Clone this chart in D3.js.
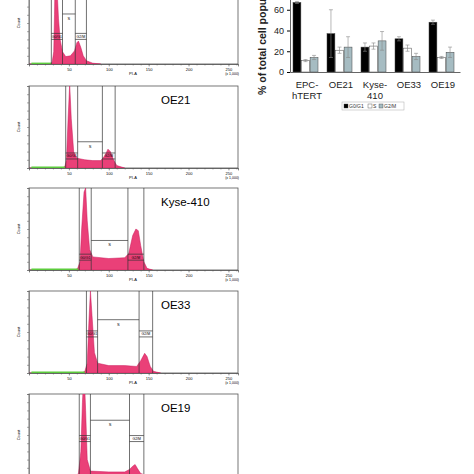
<!DOCTYPE html>
<html><head><meta charset="utf-8">
<script src="https://cdn.jsdelivr.net/npm/d3@7"></script>
<style>body{margin:0;background:#fff}svg{display:block;font-family:Arial,"Liberation Sans",sans-serif}</style>
</head><body>
<div class="chart"></div>
<script>
// histogram panels: [PI-A value, count as fraction of panel height]
const panelNames = ["", "OE21", "Kyse-410", "OE33", "OE19"];
const panelAxisY = [64, 168, 270, 373, 476];
const histograms = [
  [[0,0],[26,0],[29,0.02],[31,0.15],[32,0.6],[33,1.3],[35,0.95],[37,0.55],[39,0.3],[42,0.15],[46,0.09],[52,0.1],[57,0.16],[60,0.26],[62,0.28],[65,0.2],[68,0.1],[72,0.04],[80,0.01],[90,0]],
  [[0,0],[42,0],[45,0.02],[47,0.1],[49,0.6],[51,1.02],[53,0.6],[56,0.2],[60,0.12],[70,0.1],[80,0.09],[90,0.09],[95,0.15],[99,0.23],[102,0.2],[106,0.1],[110,0.03],[120,0]],
  [[0,0],[58,0],[61,0.02],[64,0.1],[66,0.5],[69,0.95],[71,1.0],[73,0.6],[76,0.25],[80,0.16],[100,0.14],[120,0.15],[125,0.2],[130,0.42],[134,0.5],[137,0.48],[140,0.3],[144,0.1],[148,0.02],[155,0]],
  [[0,0],[66,0],[70,0.02],[73,0.12],[75,0.6],[77,1.0],[79,0.7],[82,0.25],[86,0.12],[100,0.09],[120,0.09],[135,0.08],[140,0.15],[145,0.24],[148,0.2],[152,0.08],[156,0.02],[165,0]],
  [[0,0],[58,0],[62,0.03],[65,0.3],[67,0.9],[69,1.3],[71,0.8],[73,0.2],[77,0.06],[100,0.05],[120,0.05],[126,0.08],[130,0.12],[133,0.14],[136,0.09],[140,0.03],[150,0]]
];
// gate boundaries: G0/G1 start, S start, G2/M start, G2/M end
const gates = [[28,42,58,72],[46,61,92,108],[63,78,124,144],[72,86,138,155],[63,77,126,144]];
const sGateLevel = [0.61, 0.32, 0.36, 0.65, 0.68];
const gGateLevel = [0.30, 0.11, 0.12, 0.44, 0.42];
const debrisEnd = [28, 45, 62, 70, 62];
const xTicks = [50, 100, 150, 200, 250];

// bar chart
const categories = [["EPC-","hTERT"], ["OE21"], ["Kyse-","410"], ["OE33"], ["OE19"]];
const phases = ["G0/G1", "S", "G2/M"];
const g0g1 = [67, 37, 24, 32, 48];
const sPhase = [11, 21, 25, 23, 14];
const g2m = [14, 24, 30, 15, 19];
const g0g1Err = [1, 23, 4, 2, 2];
const sErr = [1, 3, 3, 3, 1];
const g2mErr = [2, 10, 9, 3, 5];
const yTicks = [0, 20, 40, 60];

const svg = d3.select(".chart").append("svg").attr("width", 474).attr("height", 474);
const defs = svg.append("defs");
const x = d3.scaleLinear().domain([0, 262]).range([29, 238]);
const pink = "#ea4078";

histograms.forEach((h, i) => {
  const base = panelAxisY[i], top = base - 82;
  const y = d3.scaleLinear().domain([0, 1]).range([base, top]);
  defs.append("clipPath").attr("id", "c" + i).append("rect")
    .attr("x", 29).attr("y", top).attr("width", 209).attr("height", 82);
  const g = svg.append("g");
  g.append("rect").attr("x", 29).attr("y", top).attr("width", 209).attr("height", 82)
    .attr("fill", "none").attr("stroke", "#555").attr("stroke-width", 0.8);
  const area = d3.area().x(d => x(d[0])).y0(base).y1(d => y(d[1]));
  g.append("path").datum(h).attr("d", area).attr("fill", pink)
    .attr("stroke", "#c8185a").attr("stroke-width", 0.5).attr("clip-path", "url(#c" + i + ")");
  g.append("line").attr("x1", x(3)).attr("x2", x(debrisEnd[i])).attr("y1", base - 0.7).attr("y2", base - 0.7)
    .attr("stroke", "#5ccc3c").attr("stroke-width", 1.4);
  const gt = gates[i];
  const gl = g.append("g").attr("clip-path", "url(#c" + i + ")").attr("stroke", "#333").attr("stroke-width", 0.7).attr("fill", "none");
  gt.forEach(v => gl.append("line").attr("x1", x(v)).attr("x2", x(v)).attr("y1", top).attr("y2", base));
  gl.append("line").attr("x1", x(gt[1])).attr("x2", x(gt[2])).attr("y1", y(sGateLevel[i])).attr("y2", y(sGateLevel[i]));
  [[gt[0], gt[1]], [gt[2], gt[3]]].forEach(p => {
    gl.append("line").attr("x1", x(p[0])).attr("x2", x(p[1])).attr("y1", y(gGateLevel[i])).attr("y2", y(gGateLevel[i]));
    gl.append("line").attr("x1", x(p[0])).attr("x2", x(p[1])).attr("y1", y(gGateLevel[i]) - 6).attr("y2", y(gGateLevel[i]) - 6);
  });
  g.append("text").attr("x", x((gt[1] + gt[2]) / 2)).attr("y", y(sGateLevel[i]) + 6).attr("text-anchor", "middle")
    .attr("font-size", 4).text("S");
  g.append("text").attr("x", x((gt[0] + gt[1]) / 2)).attr("y", y(gGateLevel[i]) - 1.5).attr("text-anchor", "middle")
    .attr("font-size", 3.5).text("G0/G1");
  g.append("text").attr("x", x((gt[2] + gt[3]) / 2)).attr("y", y(gGateLevel[i]) - 1.5).attr("text-anchor", "middle")
    .attr("font-size", 3.5).text("G2/M");
  // axes
  g.append("g").attr("transform", `translate(0,${base})`)
    .call(d3.axisBottom(x).ticks(26).tickSize(1.5).tickFormat(""));
  if (base < 470) {
    g.append("g").attr("transform", `translate(0,${base})`)
      .call(d3.axisBottom(x).tickValues(xTicks).tickSize(2.5).tickFormat(d3.format("d")))
      .call(a => a.selectAll("text").attr("font-size", 4).attr("dy", "0.4em"));
    g.append("text").attr("x", 133).attr("y", base + 11).attr("text-anchor", "middle").attr("font-size", 4).text("PI-A");
    g.append("text").attr("x", 239).attr("y", base + 10.5).attr("text-anchor", "end").attr("font-size", 3.5).text("(x 1,000)");
  }
  g.selectAll(".domain").attr("stroke", "#555").attr("stroke-width", 0.6);
  g.selectAll(".tick line").attr("stroke", "#555").attr("stroke-width", 0.5);
  g.append("g").attr("transform", "translate(29,0)")
    .call(d3.axisLeft(y).ticks(10).tickSize(2).tickFormat(""))
    .call(a => a.selectAll("line,path").attr("stroke", "#555").attr("stroke-width", 0.5));
  g.append("text").attr("transform", `translate(20,${(top + base) / 2}) rotate(-90)`).attr("text-anchor", "middle")
    .attr("font-size", 4).text("Count");
  if (panelNames[i]) g.append("text").attr("x", 161).attr("y", top + 18).attr("font-size", 11.5).text(panelNames[i]);
});

// bar chart
const bx = d3.scaleBand().domain(d3.range(5)).range([290, 460]);
const by = d3.scaleLinear().domain([0, 80]).range([72, -11]);
const inner = d3.scaleBand().domain(phases).range([3, 28]).paddingInner(0.08);
const series = [[g0g1, g0g1Err, "#000"], [sPhase, sErr, "#fff"], [g2m, g2mErr, "#a6bcc2"]];
const bg = svg.append("g");
series.forEach((s, k) => {
  const grp = bg.append("g");
  grp.selectAll("rect").data(s[0]).join("rect")
    .attr("x", (d, j) => bx(j) + inner(phases[k])).attr("y", d => by(d))
    .attr("width", inner.bandwidth()).attr("height", d => by(0) - by(d))
    .attr("fill", s[2]).attr("stroke", "#444").attr("stroke-width", 0.5);
  grp.selectAll("g.err").data(s[0]).join("g").attr("class", "err").each(function (d, j) {
    const cx = bx(j) + inner(phases[k]) + inner.bandwidth() / 2, e = s[1][j];
    const el = d3.select(this).attr("stroke", "#888").attr("stroke-width", 0.6);
    el.append("line").attr("x1", cx).attr("x2", cx).attr("y1", by(d - e)).attr("y2", by(d + e));
    [d - e, d + e].forEach(v => el.append("line").attr("x1", cx - 2).attr("x2", cx + 2).attr("y1", by(v)).attr("y2", by(v)));
  });
});
bg.append("g").attr("transform", "translate(290,0)")
  .call(d3.axisLeft(by).tickValues(yTicks).tickSize(3))
  .call(a => a.selectAll("text").attr("font-size", 9).attr("fill", "#222"));
bg.append("g").attr("transform", "translate(0,72)")
  .call(d3.axisBottom(bx).tickSize(0).tickFormat(""));
bg.selectAll(".domain").attr("stroke", "#666");
categories.forEach((c, j) => c.forEach((t, r) =>
  bg.append("text").attr("x", bx(j) + bx.bandwidth() / 2).attr("y", 88 + r * 11)
    .attr("text-anchor", "middle").attr("font-size", 9.5).attr("fill", "#222").text(t)));
bg.append("text").attr("transform", "translate(266,95) rotate(-90)").attr("font-size", 10.5)
  .attr("font-weight", "bold").attr("fill", "#222").text("% of total cell population");
// legend
const lg = bg.append("g").attr("transform", "translate(344,104)");
lg.append("rect").attr("x", -2).attr("y", -2).attr("width", 62).attr("height", 8).attr("fill", "none").attr("stroke", "#aaa").attr("stroke-width", 0.5);
const lx = [0, 24, 35];
phases.forEach((p, k) => {
  lg.append("rect").attr("x", lx[k]).attr("y", 0).attr("width", 4).attr("height", 4)
    .attr("fill", series[k][2]).attr("stroke", "#444").attr("stroke-width", 0.4);
  lg.append("text").attr("x", lx[k] + 5).attr("y", 4).attr("font-size", 5).attr("fill", "#333").text(p);
});
</script>
</body></html>
